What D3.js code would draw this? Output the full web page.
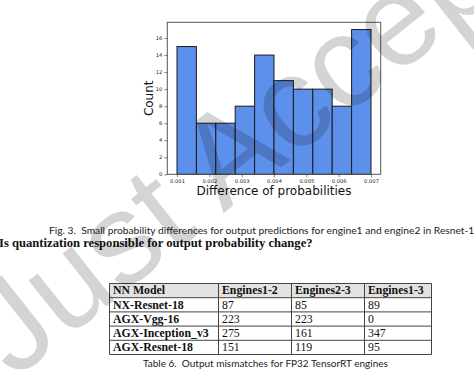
<!DOCTYPE html>
<html>
<head>
<meta charset="utf-8">
<script src="https://cdn.jsdelivr.net/npm/d3@7"></script>
<style>
  html, body { margin: 0; padding: 0; background: #fff; }
  svg { display: block; }
</style>
</head>
<body>
<svg id="page" width="474" height="369"></svg>
<script>
// histogram data (Fig. 3)
const binEdges = [0.0010, 0.0016, 0.0022, 0.0028, 0.0034, 0.0040, 0.0046, 0.0052, 0.0058, 0.0064, 0.0070];
const binCounts = [15, 6, 6, 8, 14, 11, 10, 10, 8, 17];
const xTicks = [0.001, 0.002, 0.003, 0.004, 0.005, 0.006, 0.007];
const yTicks = [0, 2, 4, 6, 8, 10, 12, 14, 16];

// table data (Table 6)
const tableHeader = ['NN Model', 'Engines1-2', 'Engines2-3', 'Engines1-3'];
const tableModels = ['NX-Resnet-18', 'AGX-Vgg-16', 'AGX-Inception_v3', 'AGX-Resnet-18'];
const engines12 = [87, 223, 275, 151];
const engines23 = [85, 223, 161, 119];
const engines13 = [89, 0, 347, 95];

const figCaption = 'Fig. 3.  Small probability differences for output predictions for engine1 and engine2 in Resnet-18';
const heading = 'Is quantization responsible for output probability change?';
const tableCaption = 'Table 6.  Output mismatches for FP32 TensorRT engines';

const svg = d3.select('#page');

// scale a text's font so it spans a given width
function fitText(sel, width) {
  const node = sel.node();
  const fs = parseFloat(sel.attr('font-size'));
  const len = node.getComputedTextLength();
  sel.attr('font-size', (fs * width / len).toFixed(2));
  return sel;
}

// ---- histogram ----
const plot = { left: 167.3, right: 380.7, top: 22.3, bottom: 174.3 };
const x = d3.scaleLinear().domain([0.0007, 0.0073]).range([plot.left, plot.right]);
const y = d3.scaleLinear().domain([0, 17.85]).range([plot.bottom, plot.top]);

const bins = binCounts.map((c, i) => ({ x0: binEdges[i], x1: binEdges[i + 1], count: c }));

svg.append('g')
  .selectAll('rect')
  .data(bins)
  .join('rect')
  .attr('x', d => x(d.x0))
  .attr('y', d => y(d.count))
  .attr('width', d => x(d.x1) - x(d.x0))
  .attr('height', d => y(0) - y(d.count))
  .attr('fill', '#5d90ea')
  .attr('stroke', '#1a1a1a')
  .attr('stroke-width', 1);

svg.append('rect')
  .attr('x', plot.left).attr('y', plot.top)
  .attr('width', plot.right - plot.left).attr('height', plot.bottom - plot.top)
  .attr('fill', 'none').attr('stroke', '#555').attr('stroke-width', 1);

const gx = svg.append('g')
  .attr('transform', `translate(0,${plot.bottom})`)
  .call(d3.axisBottom(x).tickValues(xTicks).tickFormat(d3.format('.3f')).tickSize(3).tickPadding(2).tickSizeOuter(0));
gx.select('.domain').remove();
gx.selectAll('text').attr('font-family', 'DejaVu Sans').attr('font-size', 5.2).attr('fill', '#222');
gx.selectAll('line').attr('stroke', '#333').attr('stroke-width', 0.6);

const gy = svg.append('g')
  .attr('transform', `translate(${plot.left},0)`)
  .call(d3.axisLeft(y).tickValues(yTicks).tickSize(3).tickPadding(2).tickSizeOuter(0));
gy.select('.domain').remove();
gy.selectAll('text').attr('font-family', 'DejaVu Sans').attr('font-size', 5.2).attr('fill', '#222');
gy.selectAll('line').attr('stroke', '#333').attr('stroke-width', 0.6);

svg.append('text')
  .attr('x', (plot.left + plot.right) / 2).attr('y', 195)
  .attr('text-anchor', 'middle')
  .attr('font-family', 'DejaVu Sans').attr('font-size', 12)
  .attr('fill', '#111')
  .text('Difference of probabilities');

svg.append('text')
  .attr('transform', `translate(153,${(plot.top + plot.bottom) / 2}) rotate(-90)`)
  .attr('text-anchor', 'middle')
  .attr('font-family', 'DejaVu Sans').attr('font-size', 12)
  .attr('fill', '#111')
  .text('Count');

// ---- captions / heading ----
const cap = svg.append('text')
  .attr('x', 49).attr('y', 233.5)
  .attr('font-family', 'Lato').attr('font-size', 9)
  .attr('fill', '#222')
  .attr('xml:space', 'preserve')
  .text(figCaption);
fitText(cap, 431);

const head = svg.append('text')
  .attr('x', -1).attr('y', 247)
  .attr('font-family', 'Liberation Serif').attr('font-weight', 'bold').attr('font-size', 11)
  .attr('fill', '#111')
  .text(heading);
fitText(head, 314);

// ---- table ----
const colEdges = [109.5, 218.5, 291.5, 364.5, 431.5];
const rows = tableModels.map((m, i) => [m, engines12[i], engines23[i], engines13[i]]);
const rowY = d3.scaleBand().domain(d3.range(rows.length + 1)).range([283.5, 354.5]);

const table = svg.append('g');
table.append('rect')
  .attr('x', colEdges[0]).attr('y', rowY(0))
  .attr('width', colEdges[4] - colEdges[0]).attr('height', rowY.bandwidth())
  .attr('fill', '#e2e2e2');

const allRows = [tableHeader].concat(rows);
allRows.forEach((r, ri) => {
  r.forEach((v, ci) => {
    table.append('text')
      .attr('x', colEdges[ci] + 3.5)
      .attr('y', rowY(ri) + rowY.bandwidth() - 3.4)
      .attr('font-family', 'Liberation Serif')
      .attr('font-weight', (ri === 0 || ci === 0) ? 'bold' : 'normal')
      .attr('font-size', 11.8)
      .attr('fill', '#111')
      .text(v);
  });
});

// grid lines
d3.range(rows.length + 2).forEach(i => {
  const yy = i <= rows.length ? rowY(i) : rowY.range()[1];
  table.append('line')
    .attr('x1', colEdges[0]).attr('x2', colEdges[4])
    .attr('y1', yy).attr('y2', yy)
    .attr('stroke', '#444').attr('stroke-width', 1);
});
colEdges.forEach(cx => {
  table.append('line')
    .attr('x1', cx).attr('x2', cx)
    .attr('y1', rowY.range()[0]).attr('y2', rowY.range()[1])
    .attr('stroke', '#444').attr('stroke-width', 1);
});

const tcap = svg.append('text')
  .attr('x', 143).attr('y', 367)
  .attr('font-family', 'Lato').attr('font-size', 9)
  .attr('fill', '#222')
  .attr('xml:space', 'preserve')
  .text(tableCaption);
fitText(tcap, 245);

// ---- watermark ----
svg.append('text')
  .attr('transform', 'translate(14,380) rotate(-38.5)')
  .attr('font-family', 'Liberation Sans').attr('font-size', 130)
  .attr('fill', '#000').attr('fill-opacity', 0.17)
  .text('Just Accepted');
</script>
</body>
</html>
